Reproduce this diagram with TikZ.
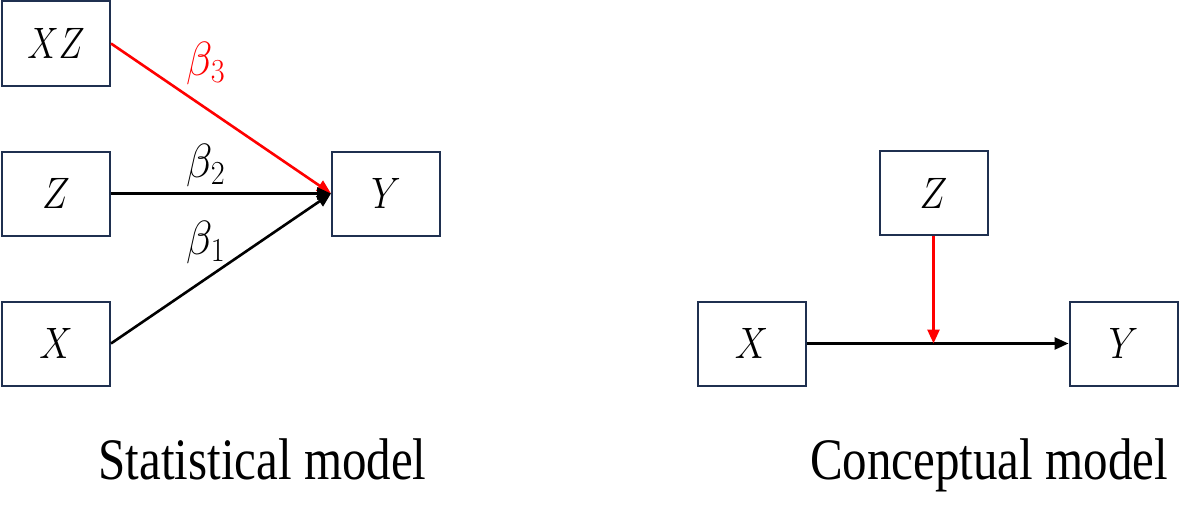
\RequirePackage{fix-cm}
\documentclass[tikz,border=0pt]{standalone}
\usepackage{fontspec}
\setmainfont{Liberation Serif}
\usetikzlibrary{arrows.meta}
\definecolor{boxline}{HTML}{1F3050}
\definecolor{redline}{HTML}{FF0000}
\begin{document}
\begin{tikzpicture}[x=1pt,y=-1pt,
  varbox/.style={draw=boxline,line width=2pt,minimum width=108pt,minimum height=84pt,inner sep=0pt,
    font=\fontsize{44}{52}\selectfont},
  conn/.style={line width=2.6pt,-{Triangle[length=14pt,width=12pt]}},
  redconn/.style={conn,draw=redline,-{Triangle[length=14pt,width=12pt,fill=redline]}},
  coef/.style={font=\fontsize{48}{56}\selectfont,inner sep=0pt},
  caption/.style={font=\fontsize{49}{58}\selectfont,inner sep=0pt,anchor=base}]
\useasboundingbox (0,0) rectangle (1199,519);
% statistical model
\node[varbox] (xz) at (56,43.5) {\scalebox{0.8}[1]{$XZ$}};
\node[varbox] (zl) at (56,193.5) {\scalebox{0.85}[1]{$Z$}};
\node[varbox] (xl) at (56,343.5) {\scalebox{0.85}[1]{$X$}};
\node[varbox] (yl) at (386,193.5) {\scalebox{0.85}[1]{$Y$}};
\draw[redconn] (xz.east) -- (yl.west);
\draw[conn] (zl.east) -- (yl.west);
\draw[conn] (xl.east) -- (yl.west);
\node[coef,text=redline] (b3) at (206,63) {\scalebox{0.9}[1]{$\beta_3$}};
\node[coef] (b2) at (206,165) {\scalebox{0.9}[1]{$\beta_2$}};
\node[coef] (b1) at (206,242) {\scalebox{0.9}[1]{$\beta_1$}};
\node[caption] (cap1) at (262.5,479) {\scalebox{1}[1.2]{Statistical model}};
% conceptual model
\node[varbox] (zr) at (933.5,193) {\scalebox{0.85}[1]{$Z$}};
\node[varbox] (xr) at (751.5,343.5) {\scalebox{0.85}[1]{$X$}};
\node[varbox] (yr) at (1123.5,343.5) {\scalebox{0.85}[1]{$Y$}};
\coordinate (mid) at (zr.south |- xr.east);
\draw[conn] (xr.east) -- (yr.west);
\draw[redconn] (zr.south) -- (mid);
\node[caption] (cap2) at (989,479) {\scalebox{1}[1.2]{Conceptual model}};
\end{tikzpicture}
\end{document}
